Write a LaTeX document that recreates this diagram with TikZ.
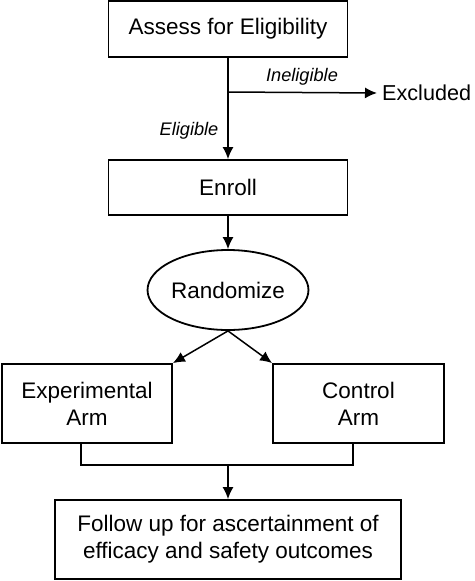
\documentclass[tikz,border=0pt]{standalone}
\usepackage{fontspec}
\setmainfont{Liberation Sans}
\usetikzlibrary{arrows.meta,shapes.geometric}
\begin{document}
\begin{tikzpicture}[x=1pt,y=-1pt,
  box/.style={draw,line width=1.8pt,inner sep=0pt,align=center,font=\fontsize{22.5}{27}\selectfont},
  lbl/.style={inner sep=0pt,font=\fontsize{18.2}{22}\selectfont\itshape},
  conn/.style={line width=1.5pt},
  arr/.style={conn,-{Latex[length=12pt,width=11pt]}}]
\useasboundingbox (0,0) rectangle (474,581);
\node[box,minimum width=239pt,minimum height=56pt] (assess) at (228,29) {Assess for Eligibility};
\node[box,minimum width=239pt,minimum height=55pt] (enroll) at (228,187.5) {Enroll};
\node[box,ellipse,minimum width=150pt,minimum height=80pt] (rand) at (228,290) {Randomize};
\node[box,minimum width=170pt,minimum height=79pt] (exp) at (87,403.5) {Experimental\\Arm};
\node[box,minimum width=171pt,minimum height=79pt] (ctrl) at (358.5,403.5) {Control\\Arm};
\node[box,minimum width=346pt,minimum height=79pt] (follow) at (228,539.5) {Follow up for ascertainment of\\efficacy and safety outcomes};
\node[anchor=west,inner sep=0pt,font=\fontsize{21.6}{26}\selectfont] (excl) at (382,93) {Excluded};
\coordinate (br) at (228,92);
\node[lbl] (inel) at (302,77) {Ineligible};
\node[lbl] (elig) at (189,131) {Eligible};
\draw[arr] (assess.south) -- (enroll.north);
\draw[arr] (br) -- (excl.west -| 377,0);
\draw[arr] (enroll.south) -- (rand.north);
\draw[arr] (rand.south) -- (exp.north east);
\draw[arr] (rand.south) -- (ctrl.north west);
\coordinate (j1) at (81,465);
\coordinate (j2) at (353,465);
\coordinate (jm) at (228,465);
\draw[conn] (exp.south -| j1) -- (j1) -- (j2) -- (ctrl.south -| j2);
\draw[arr] (jm) -- (follow.north);
\end{tikzpicture}
\end{document}
